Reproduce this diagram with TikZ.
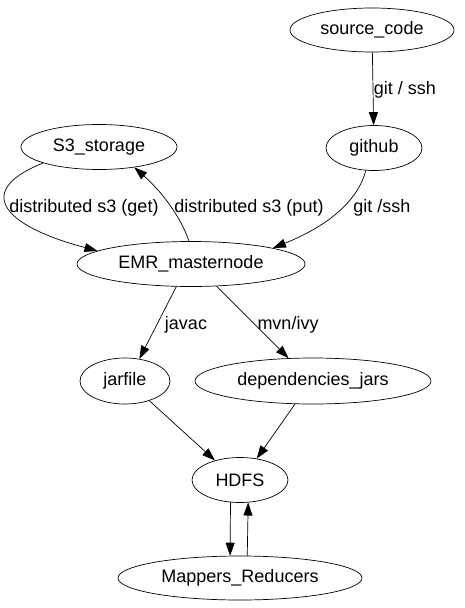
\documentclass[tikz,border=0pt]{standalone}
\usepackage{fontspec}
\setmainfont{Liberation Sans}
\usetikzlibrary{shapes.geometric,arrows.meta}
\begin{document}
\begin{tikzpicture}[x=1pt,y=-1pt,
  every node/.style={font=\fontsize{18}{20}\selectfont},
  nd/.style={ellipse,draw,line width=0.7pt,inner sep=0pt},
  lbl/.style={anchor=base,inner sep=0pt},
  edge/.style={draw,line width=0.7pt,-{Triangle[length=13pt,width=9pt]}}]
\useasboundingbox (0,0) rectangle (465,608);
\node[nd,minimum width=164pt,minimum height=44pt] (src) at (372,30) {source\_code};
\node[nd,minimum width=96pt,minimum height=45pt] (gh) at (374,148) {github};
\node[nd,minimum width=156pt,minimum height=45pt] (s3) at (99,147) {S3\_storage};
\node[nd,minimum width=228pt,minimum height=45pt] (emr) at (191,264) {EMR\_masternode};
\node[nd,minimum width=90pt,minimum height=46pt] (jar) at (125,381) {jarfile};
\node[nd,minimum width=236pt,minimum height=46pt] (dep) at (313,381) {dependencies\_jars};
\node[nd,minimum width=96pt,minimum height=45pt] (hdfs) at (240,480) {HDFS};
\node[nd,minimum width=244pt,minimum height=44pt] (mr) at (240,578) {Mappers\_Reducers};

\draw[edge] (src) -- (gh);
\node[lbl] (l1) at (405,94) {git / ssh};

\draw[edge] (gh.250) .. controls (358,200) and (330,225) .. (emr.11);
\node[lbl] (l2) at (382,212) {git /ssh};

\draw[edge] (s3.196) .. controls (-25,190) and (0,225) .. (emr.172);
\node[lbl] (l3) at (84,212) {distributed s3 (get)};

\draw[edge] (emr.95) .. controls (180,215) and (160,190) .. (s3.-30);
\node[lbl] (l4) at (249,212) {distributed s3 (put)};

\draw[edge] (emr.237) -- (jar.57);
\node[lbl] (l5) at (186,329) {javac};
\draw[edge] (emr.319) -- (dep.137);
\node[lbl] (l6) at (288,329) {mvn/ivy};

\draw[edge] (jar.321) -- (hdfs.142);
\draw[edge] (dep.232) -- (hdfs.52);

\draw[edge] (hdfs.247) -- (mr.114);
\draw[edge] (mr.72) -- (hdfs.290);
\end{tikzpicture}
\end{document}
